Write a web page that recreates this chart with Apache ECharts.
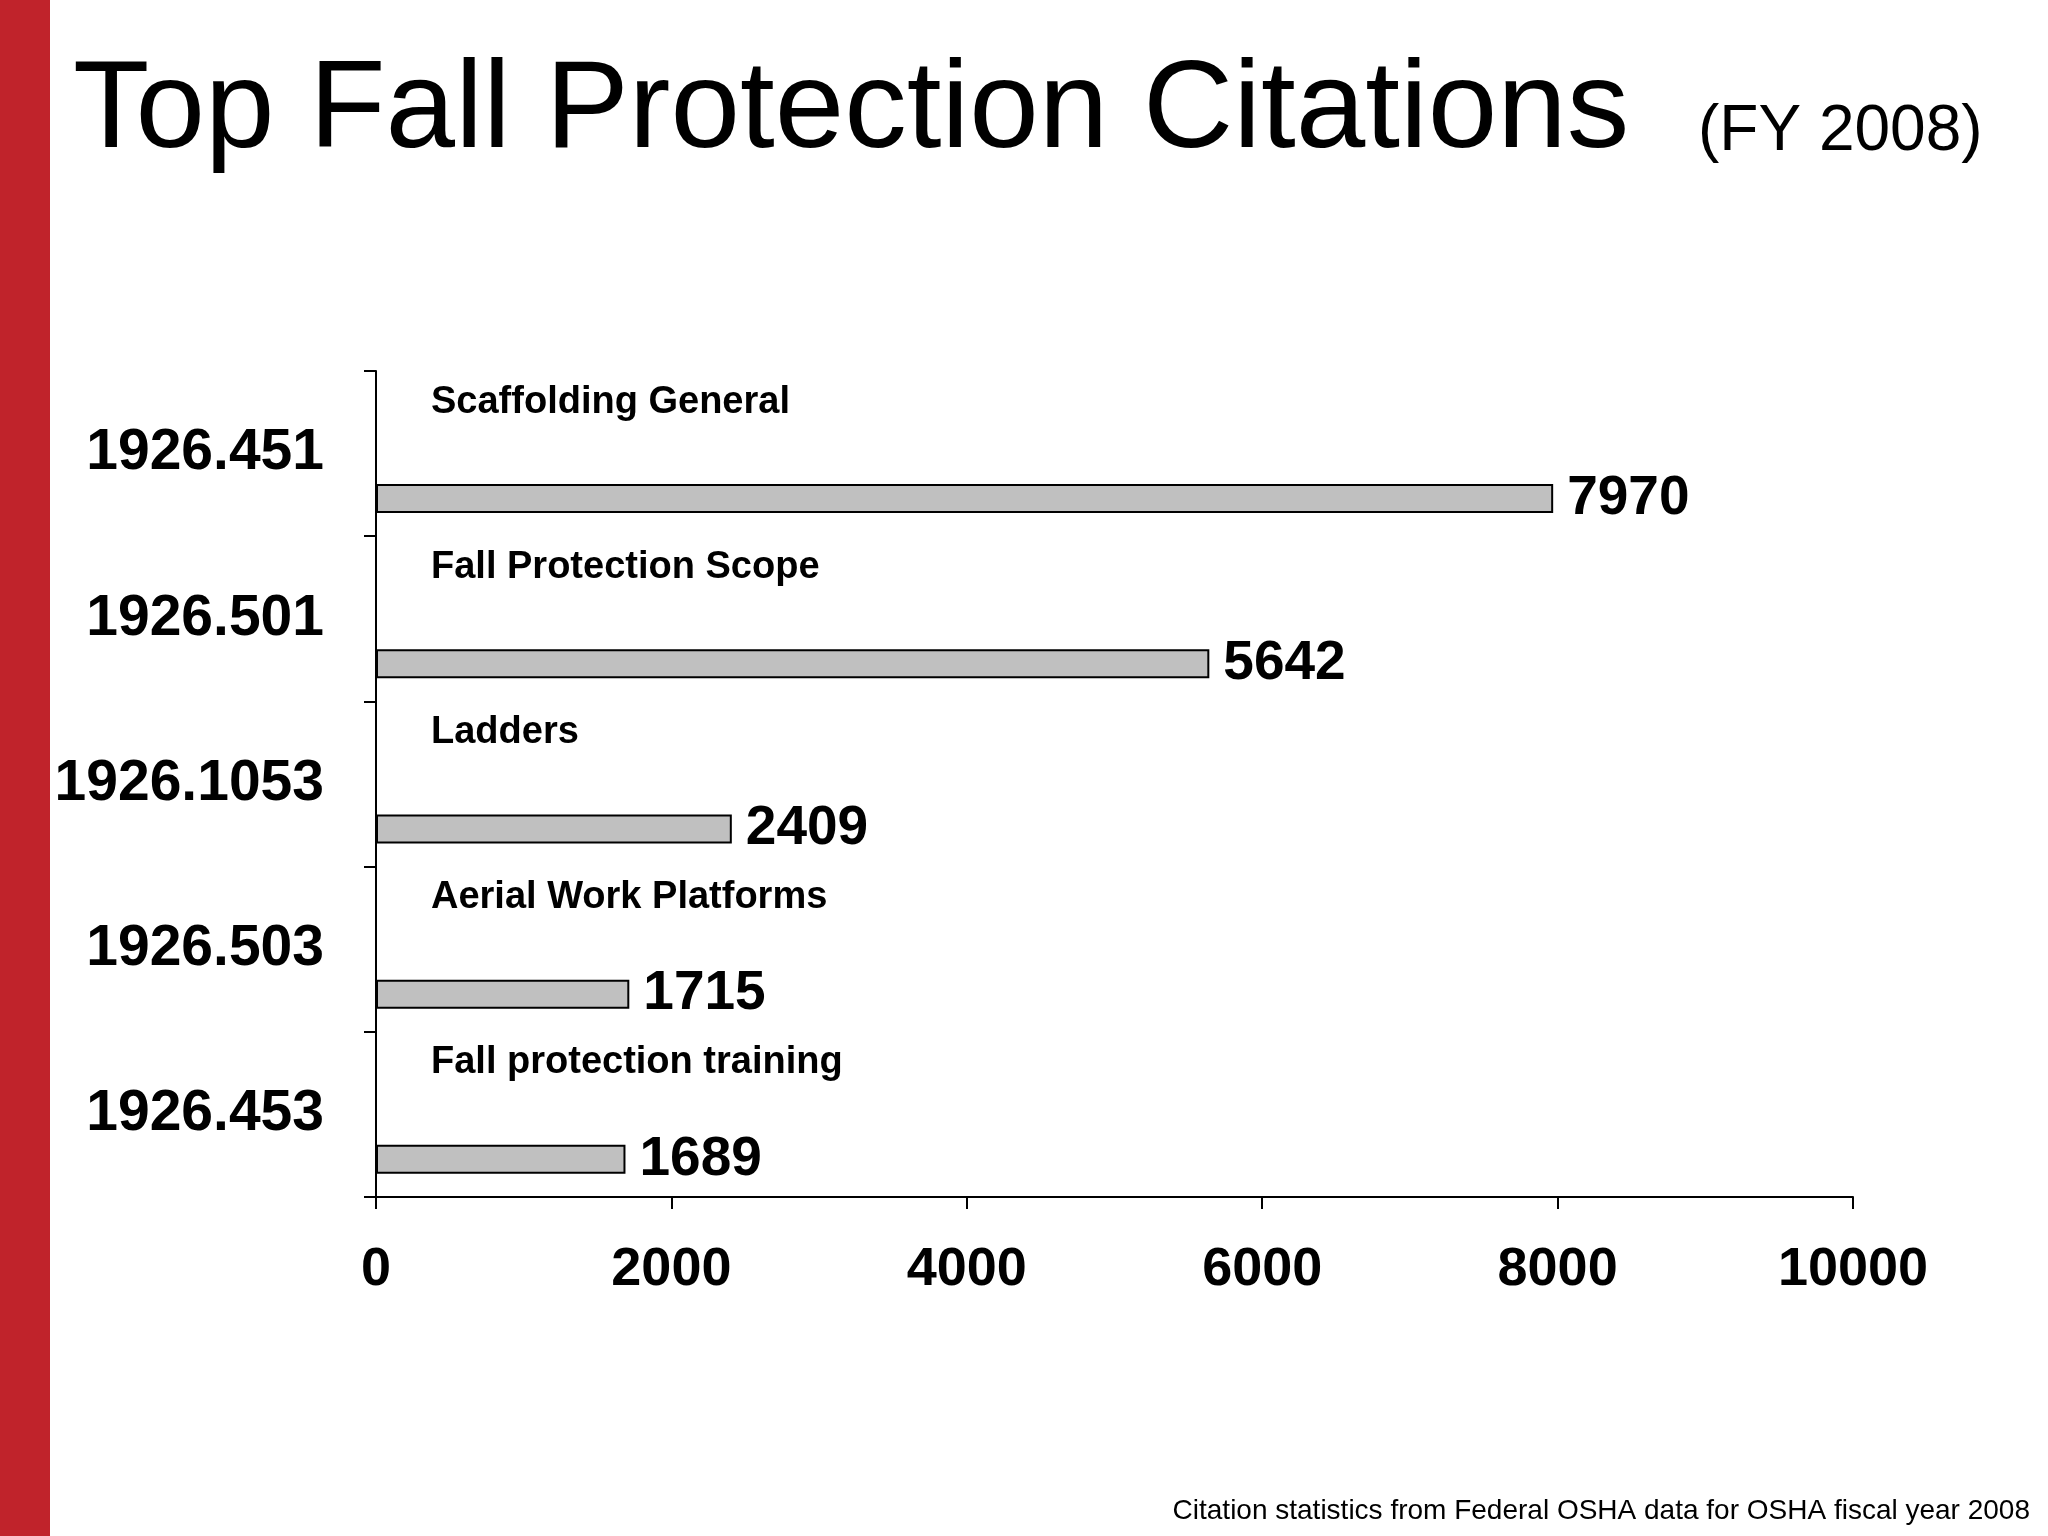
<!DOCTYPE html>
<html><head><meta charset="utf-8">
<script src="https://cdn.jsdelivr.net/npm/echarts@6/dist/echarts.min.js"></script>
<style>html,body{margin:0;padding:0;background:#fff}#c{width:2048px;height:1536px}</style>
</head><body><div id="c"></div>
<script>
const codes = ['1926.451','1926.501','1926.1053','1926.503','1926.453'];
const names = ['Scaffolding General','Fall Protection Scope','Ladders','Aerial Work Platforms','Fall protection training'];
const values = [7970,5642,2409,1715,1689];
const xTicks = [0,2000,4000,6000,8000,10000];
const F = 'Liberation Sans, Arial, sans-serif';
const chart = echarts.init(document.getElementById('c'));
chart.setOption({
  backgroundColor:'#fff',
  animation:false,
  graphic:[
    {type:'rect',shape:{x:0,y:0,width:50,height:1536},style:{fill:'#c0232b'}},
    {type:'text',left:73,top:50,style:{text:'Top Fall Protection Citations',fontFamily:F,fontSize:125,fill:'#000'}},
    {type:'text',left:1698,top:100,style:{text:'(FY 2008)',fontFamily:F,fontSize:64,fill:'#000'}},
    {type:'text',right:18,top:1497,style:{text:'Citation statistics from Federal OSHA data for OSHA fiscal year 2008',fontFamily:F,fontSize:28,fill:'#000'}}
  ],
  grid:{left:376,right:195,top:371,bottom:339},
  xAxis:{type:'value',min:0,max:10000,interval:2000,
    axisLine:{show:true,lineStyle:{color:'#000',width:2}},
    axisTick:{show:true,length:12,lineStyle:{color:'#000',width:2}},
    splitLine:{show:false},
    axisLabel:{margin:46,fontFamily:F,fontWeight:'bold',fontSize:54,color:'#000',formatter:v=>xTicks.includes(v)?String(v):''}},
  yAxis:{type:'category',data:codes,inverse:true,
    axisLine:{show:true,lineStyle:{color:'#000',width:2}},
    axisTick:{show:true,length:12,lineStyle:{color:'#000',width:2}},
    axisLabel:{margin:52,fontFamily:F,fontWeight:'bold',fontSize:57,color:'#000'}},
  series:[
    {type:'bar',data:codes.map(()=>0),barWidth:29,barGap:'210%',itemStyle:{color:'transparent'},silent:true,
     label:{show:true,position:[55,0],verticalAlign:'middle',offset:[0,8],fontFamily:F,fontWeight:'bold',fontSize:38,color:'#000',
       formatter:p=>names[p.dataIndex]}},
    {type:'bar',data:values,barWidth:29,barGap:'210%',
     itemStyle:{color:'#c0c0c0',borderColor:'#000',borderWidth:2},
     label:{show:true,position:'right',distance:14,fontFamily:F,fontWeight:'bold',fontSize:55,color:'#000'}}
  ]
});
</script></body></html>
